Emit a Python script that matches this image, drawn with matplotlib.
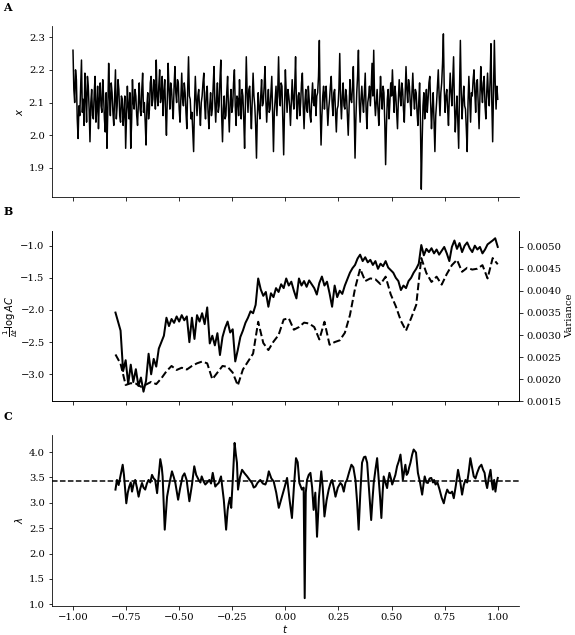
import numpy as np
import matplotlib
matplotlib.use("Agg")
import matplotlib.pyplot as plt
from matplotlib.ticker import StrMethodFormatter

# ---- data ----
# panel A: the raw series x(t), evenly sampled on [-1, 1]
x_vals = [
    2.26, 2.14, 2.10, 2.20, 2.17, 2.05, 1.99, 2.09, 2.06, 2.15, 2.23, 2.07, 2.11, 2.03, 2.19, 2.12, 2.04, 2.18, 2.15, 2.08,
    1.98, 2.10, 2.14, 2.06, 2.05, 2.13, 2.18, 2.04, 2.08, 2.15, 2.02, 2.11, 2.16, 2.09, 2.07, 2.17, 2.12, 2.05, 2.01, 2.13,
    1.96, 2.08, 2.22, 2.12, 2.06, 2.16, 2.13, 2.07, 2.03, 2.11, 2.20, 2.05, 2.09, 2.17, 2.14, 2.06, 2.04, 2.12, 2.11, 2.03,
    2.07, 2.12, 1.96, 2.06, 2.15, 2.09, 2.05, 2.13, 1.96, 2.04, 2.17, 2.10, 2.08, 2.14, 2.12, 2.06, 2.03, 2.10, 2.16, 2.08,
    2.06, 2.14, 2.19, 2.07, 2.10, 2.04, 1.97, 2.09, 2.13, 2.05, 2.08, 2.16, 2.18, 2.09, 2.11, 2.17, 2.15, 2.08, 2.23, 2.12,
    2.09, 2.15, 2.20, 2.10, 2.12, 2.18, 2.06, 2.13, 2.17, 2.07, 2.00, 2.11, 2.22, 2.14, 2.08, 2.16, 2.14, 2.09, 2.05, 2.15,
    2.21, 2.13, 2.10, 2.17, 2.16, 2.08, 2.04, 2.12, 2.19, 2.11, 2.09, 2.16, 2.13, 2.07, 2.02, 2.14, 2.24, 2.12, 2.11, 2.05,
    2.07, 2.01, 1.95, 2.09, 2.18, 2.11, 2.06, 2.12, 2.14, 2.08, 2.03, 2.10, 2.12, 2.16, 2.19, 2.09, 2.05, 2.13, 2.15, 2.07,
    2.02, 2.09, 2.13, 2.06, 2.08, 2.15, 2.21, 2.10, 2.04, 2.11, 2.16, 2.07, 2.09, 2.17, 2.23, 2.06, 1.98, 2.08, 2.12, 2.05,
    2.06, 2.13, 2.18, 2.08, 2.01, 2.10, 2.14, 2.07, 2.09, 2.16, 2.20, 2.09, 2.03, 2.12, 2.11, 2.06, 2.17, 2.10, 2.05, 2.14,
    2.12, 2.05, 1.96, 2.10, 2.24, 2.13, 2.07, 2.14, 2.15, 2.08, 2.02, 2.11, 2.19, 2.12, 2.09, 2.03, 1.93, 2.06, 2.13, 2.08,
    2.05, 2.12, 2.17, 2.09, 2.10, 2.15, 2.21, 2.11, 2.04, 2.10, 2.14, 2.07, 2.08, 2.13, 2.18, 2.06, 1.95, 2.07, 2.11, 2.15,
    2.06, 2.13, 2.24, 2.12, 2.09, 2.16, 2.15, 2.05, 1.94, 2.08, 2.20, 2.13, 2.07, 2.14, 2.12, 2.09, 2.03, 2.10, 2.17, 2.11,
    2.08, 2.15, 2.24, 2.10, 2.05, 2.12, 2.13, 2.06, 2.10, 2.16, 2.19, 2.09, 2.02, 2.10, 2.14, 2.08, 2.07, 2.15, 2.11, 2.06,
    2.04, 2.11, 2.16, 2.10, 2.09, 2.14, 2.06, 2.12, 2.13, 2.18, 2.29, 2.08, 1.97, 2.06, 2.12, 2.15, 2.08, 2.13, 2.15, 2.09,
    2.03, 2.08, 2.11, 2.15, 2.18, 2.10, 2.06, 2.13, 2.14, 2.07, 2.01, 2.08, 2.09, 2.14, 2.25, 2.11, 2.05, 2.12, 2.16, 2.09,
    2.08, 2.14, 2.12, 2.06, 2.00, 2.09, 2.17, 2.11, 2.10, 2.15, 2.21, 2.07, 1.93, 2.05, 2.13, 2.18, 2.26, 2.10, 2.04, 2.11,
    2.15, 2.10, 2.07, 2.13, 2.19, 2.08, 2.02, 2.10, 2.12, 2.15, 2.09, 2.14, 2.22, 2.12, 2.26, 2.11, 2.06, 2.10, 2.14, 2.08,
    2.03, 2.10, 2.18, 2.12, 2.08, 2.15, 2.13, 2.04, 1.91, 2.03, 2.11, 2.14, 2.05, 2.10, 2.16, 2.12, 2.20, 2.13, 2.07, 2.15,
    2.12, 2.07, 2.02, 2.11, 2.17, 2.12, 2.09, 2.16, 2.14, 2.08, 2.04, 2.12, 2.21, 2.14, 2.10, 2.17, 2.15, 2.10, 2.06, 2.13,
    2.19, 2.12, 2.08, 2.14, 2.13, 2.07, 2.03, 2.10, 2.16, 2.04, 1.835, 1.98, 2.09, 2.13, 2.05, 2.10, 2.14, 2.07, 2.11, 2.16,
    2.18, 2.10, 2.02, 2.08, 2.13, 2.04, 1.95, 2.06, 2.10, 2.15, 2.20, 2.12, 2.06, 2.13, 2.16, 2.22, 2.31, 2.14, 2.07, 2.12,
    2.14, 2.08, 2.03, 2.12, 2.19, 2.13, 2.09, 2.17, 2.24, 2.10, 2.01, 2.07, 2.12, 2.04, 1.96, 2.14, 2.29, 2.13, 2.05, 2.11,
    2.15, 2.09, 2.08, 2.02, 1.95, 2.10, 2.18, 2.11, 2.04, 2.13, 2.12, 2.17, 2.20, 2.13, 2.07, 2.16, 2.17, 2.09, 2.02, 2.11,
    2.21, 2.14, 2.10, 2.16, 2.18, 2.09, 2.05, 2.13, 2.19, 2.12, 2.09, 2.17, 2.28, 2.10, 1.98, 2.14, 2.29, 2.16, 2.08, 2.15,
    2.11,
]

# panel B: log autocorrelation (left axis), evenly sampled on [-0.8, 1]
logac_vals = [
    -2.04, -2.18, -2.32, -2.95, -2.78, -3.15, -2.85, -3.12, -2.92, -3.18,
    -3.05, -3.27, -3.10, -2.68, -3.00, -2.76, -2.88, -2.60, -2.50, -2.40,
    -2.12, -2.25, -2.14, -2.20, -2.10, -2.18, -2.08, -2.16, -2.10, -2.50,
    -2.12, -2.45, -2.08, -2.18, -2.05, -2.22, -1.96, -2.52, -2.40, -2.55,
    -2.36, -2.70, -2.42, -2.28, -2.18, -2.35, -2.30, -2.80, -2.62, -2.42,
    -2.32, -2.20, -2.12, -2.02, -2.05, -1.92, -1.51, -1.68, -1.78, -1.72,
    -1.95, -1.74, -1.80, -1.66, -1.72, -1.60, -1.66, -1.51, -1.62, -1.56,
    -1.70, -1.82, -1.51, -1.62, -1.55, -1.64, -1.54, -1.60, -1.66, -1.76,
    -1.58, -1.48, -1.62, -1.56, -1.74, -1.95, -1.62, -1.80, -1.70, -1.75,
    -1.62, -1.52, -1.42, -1.35, -1.30, -1.20, -1.14, -1.24, -1.18, -1.26,
    -1.22, -1.30, -1.24, -1.36, -1.28, -1.32, -1.24, -1.34, -1.38, -1.42,
    -1.50, -1.55, -1.69, -1.62, -1.66, -1.55, -1.50, -1.42, -1.36, -1.28,
    -0.99, -1.15, -1.05, -1.10, -1.04, -1.12, -1.06, -1.14, -1.08, -1.02,
    -1.12, -1.24, -1.02, -0.92, -1.05, -0.96, -1.10, -1.00, -0.95, -1.04,
    -1.10, -1.00, -1.06, -1.02, -1.12, -1.06, -0.98, -0.95, -0.92, -0.885,
    -1.02,
]

# panel B: variance (right axis), evenly sampled on [-0.8, 1]
var_vals = [
    0.00256, 0.00235, 0.00187, 0.00191, 0.00190, 0.00183, 0.00188, 0.00194,
    0.00189, 0.00202, 0.00218, 0.00230, 0.00221, 0.00226, 0.00222, 0.00230,
    0.00236, 0.00240, 0.00236, 0.00200, 0.00215, 0.00230, 0.00228, 0.00215,
    0.00186, 0.00222, 0.00240, 0.00258, 0.00330, 0.00282, 0.00266, 0.00285,
    0.00300, 0.00335, 0.00338, 0.00312, 0.00318, 0.00328, 0.00326, 0.00318,
    0.00290, 0.00330, 0.00278, 0.00284, 0.00288, 0.00305, 0.00345, 0.00405,
    0.00450, 0.00422, 0.00428, 0.00426, 0.00415, 0.00432, 0.00392, 0.00365,
    0.00332, 0.00310, 0.00338, 0.00368, 0.00474, 0.00440, 0.00420, 0.00432,
    0.00414, 0.00438, 0.00458, 0.00470, 0.00443, 0.00452, 0.00448, 0.00450,
    0.00458, 0.00428, 0.00474, 0.00460,
]

# panel C: estimated lambda
lam_t = [
    -0.800, -0.793, -0.785, -0.777, -0.766, -0.760, -0.749, -0.742, -0.735, -0.728,
    -0.722, -0.714, -0.707, -0.699, -0.691, -0.683, -0.675, -0.668, -0.660, -0.652,
    -0.644, -0.636, -0.628, -0.620, -0.613, -0.604, -0.596, -0.589, -0.582, -0.578,
    -0.568, -0.557, -0.545, -0.534, -0.525, -0.518, -0.505, -0.495, -0.484, -0.475,
    -0.465, -0.452, -0.440, -0.429, -0.420, -0.408, -0.400, -0.394, -0.385, -0.377,
    -0.368, -0.358, -0.350, -0.342, -0.336, -0.330, -0.322, -0.314, -0.303, -0.290,
    -0.279, -0.272, -0.267, -0.261, -0.255, -0.247, -0.239, -0.233, -0.228, -0.223,
    -0.214, -0.204, -0.192, -0.180, -0.168, -0.157, -0.149, -0.141, -0.130, -0.118,
    -0.106, -0.094, -0.086, -0.078, -0.066, -0.055, -0.043, -0.031, -0.016, -0.004,
    0.008, 0.020, 0.031, 0.040, 0.050, 0.058, 0.066, 0.078, 0.086, 0.091,
    0.096, 0.102, 0.110, 0.118, 0.126, 0.133, 0.141, 0.149, 0.158, 0.169,
    0.176, 0.184, 0.194, 0.204, 0.212, 0.220, 0.228, 0.236, 0.247, 0.259,
    0.267, 0.275, 0.283, 0.290, 0.300, 0.311, 0.320, 0.330, 0.338, 0.345,
    0.353, 0.361, 0.370, 0.377, 0.385, 0.396, 0.404, 0.410, 0.416, 0.424,
    0.432, 0.440, 0.446, 0.452, 0.458, 0.463, 0.471, 0.479, 0.484, 0.490,
    0.497, 0.503, 0.510, 0.518, 0.526, 0.534, 0.542, 0.548, 0.553, 0.559,
    0.565, 0.571, 0.577, 0.583, 0.589, 0.597, 0.604, 0.615, 0.624, 0.634,
    0.644, 0.650, 0.656, 0.664, 0.671, 0.679, 0.687, 0.695, 0.700, 0.707,
    0.716, 0.726, 0.736, 0.746, 0.754, 0.762, 0.770, 0.777, 0.785, 0.793,
    0.803, 0.813, 0.822, 0.832, 0.840, 0.848, 0.856, 0.863, 0.871, 0.879,
    0.887, 0.895, 0.903, 0.913, 0.923, 0.931, 0.938, 0.944, 0.950, 0.958,
    0.966, 0.972, 0.977, 0.983, 0.989, 0.995, 1.000,
]
lam_vals = [
    3.26, 3.45, 3.35, 3.52, 3.75, 3.55, 2.99, 3.20, 3.32, 3.40,
    3.22, 3.38, 3.45, 3.30, 3.12, 3.28, 3.39, 3.30, 3.26, 3.38,
    3.45, 3.40, 3.55, 3.48, 3.45, 3.19, 3.55, 3.86, 3.70, 3.52,
    2.47, 3.12, 3.40, 3.62, 3.50, 3.39, 3.06, 3.30, 3.52, 3.58,
    3.45, 3.03, 3.35, 3.72, 3.55, 3.45, 3.40, 3.52, 3.42, 3.36,
    3.40, 3.45, 3.38, 3.59, 3.45, 3.32, 3.36, 3.39, 3.52, 3.06,
    2.47, 2.85, 2.99, 3.10, 2.90, 3.50, 4.18, 3.95, 3.79, 3.26,
    3.50, 3.65, 3.58, 3.52, 3.45, 3.39, 3.30, 3.32, 3.40, 3.45,
    3.38, 3.36, 3.45, 3.62, 3.48, 3.42, 3.20, 2.90, 3.12, 3.30,
    3.49, 3.05, 2.70, 3.30, 3.88, 3.80, 3.39, 3.26, 3.30, 1.12,
    3.20, 3.45, 3.55, 3.59, 3.30, 2.86, 3.20, 2.33, 3.10, 3.62,
    3.30, 2.73, 3.05, 3.26, 3.38, 3.45, 3.30, 3.12, 3.30, 3.39,
    3.35, 3.22, 3.40, 3.45, 3.60, 3.75, 3.70, 3.45, 3.00, 2.47,
    3.20, 3.79, 3.90, 3.91, 3.79, 3.12, 2.66, 3.05, 3.39, 3.65,
    3.88, 3.45, 3.10, 2.70, 3.20, 3.52, 3.40, 3.29, 3.45, 3.59,
    3.48, 3.36, 3.45, 3.55, 3.72, 3.82, 3.95, 3.70, 3.45, 3.60,
    3.75, 3.55, 3.59, 3.70, 3.79, 3.95, 4.05, 3.99, 3.59, 3.40,
    3.16, 3.35, 3.52, 3.40, 3.39, 3.48, 3.49, 3.40, 3.45, 3.36,
    3.40, 3.26, 3.10, 2.99, 3.15, 3.26, 3.20, 3.19, 3.22, 3.09,
    3.35, 3.65, 3.45, 3.16, 3.35, 3.45, 3.40, 3.60, 3.88, 3.70,
    3.52, 3.48, 3.59, 3.70, 3.75, 3.65, 3.59, 3.40, 3.29, 3.50,
    3.65, 3.40, 3.26, 3.45, 3.22, 3.40, 3.49,
]
lam_ref = 3.43

x_ticks = [-1.0, -0.75, -0.5, -0.25, 0.0, 0.25, 0.5, 0.75, 1.0]
var_ticks = [0.0015, 0.002, 0.0025, 0.003, 0.0035, 0.004, 0.0045, 0.005]

# time grids for the evenly sampled series
t_x = np.linspace(-1.0, 1.0, len(x_vals))
t_ac = np.linspace(-0.8, 1.0, len(logac_vals))
t_var = np.linspace(-0.8, 1.0, len(var_vals))

plt.rcParams['font.family'] = 'serif'
plt.rcParams['font.size'] = 10

fig, (ax1, ax2, ax3) = plt.subplots(3, 1, sharex=True, figsize=(575 / 72, 635 / 72), dpi=72)
fig.subplots_adjust(left=0.09, right=0.9026, bottom=0.0457, top=0.959, hspace=0.199)

# A - raw series
ax1.plot(t_x, x_vals, 'k-', lw=1.5)
ax1.set_ylabel('$x$')
ax1.set_ylim(1.812, 2.334)
ax1.spines['top'].set_visible(False)
ax1.spines['right'].set_visible(False)

# B - log AC and variance on a twin axis
ax2.plot(t_ac, logac_vals, 'k-', lw=2)
ax2.set_ylabel(r'$\frac{1}{\Delta t}\log AC$', labelpad=0)
ax2.set_ylim(-3.42, -0.767)
ax2.spines['top'].set_visible(False)
ax2b = ax2.twinx()
ax2b.plot(t_var, var_vals, 'k--', lw=2)
ax2b.set_ylabel('Variance')
ax2b.set_ylim(0.0015, 0.00536)
ax2b.set_yticks(var_ticks)
ax2b.yaxis.set_major_formatter(StrMethodFormatter('{x:.4f}'))
ax2b.spines['top'].set_visible(False)

# C - lambda
ax3.plot(lam_t, lam_vals, 'k-', lw=2)
ax3.axhline(lam_ref, color='k', ls='--', lw=1.5)
ax3.set_ylabel(r'$\lambda$')
ax3.set_xlabel('$t$', labelpad=1)
ax3.set_ylim(0.966, 4.33)
ax3.spines['top'].set_visible(False)
ax3.spines['right'].set_visible(False)

ax3.set_xlim(-1.1, 1.1)
ax3.set_xticks(x_ticks)

# panel letters
for lab, ypos in zip(['A', 'B', 'C'], [0.997, 0.676, 0.352]):
    fig.text(0.006, ypos, lab, fontsize=11, fontweight='bold', va='top', ha='left')

fig.savefig('out.png', dpi=72)
